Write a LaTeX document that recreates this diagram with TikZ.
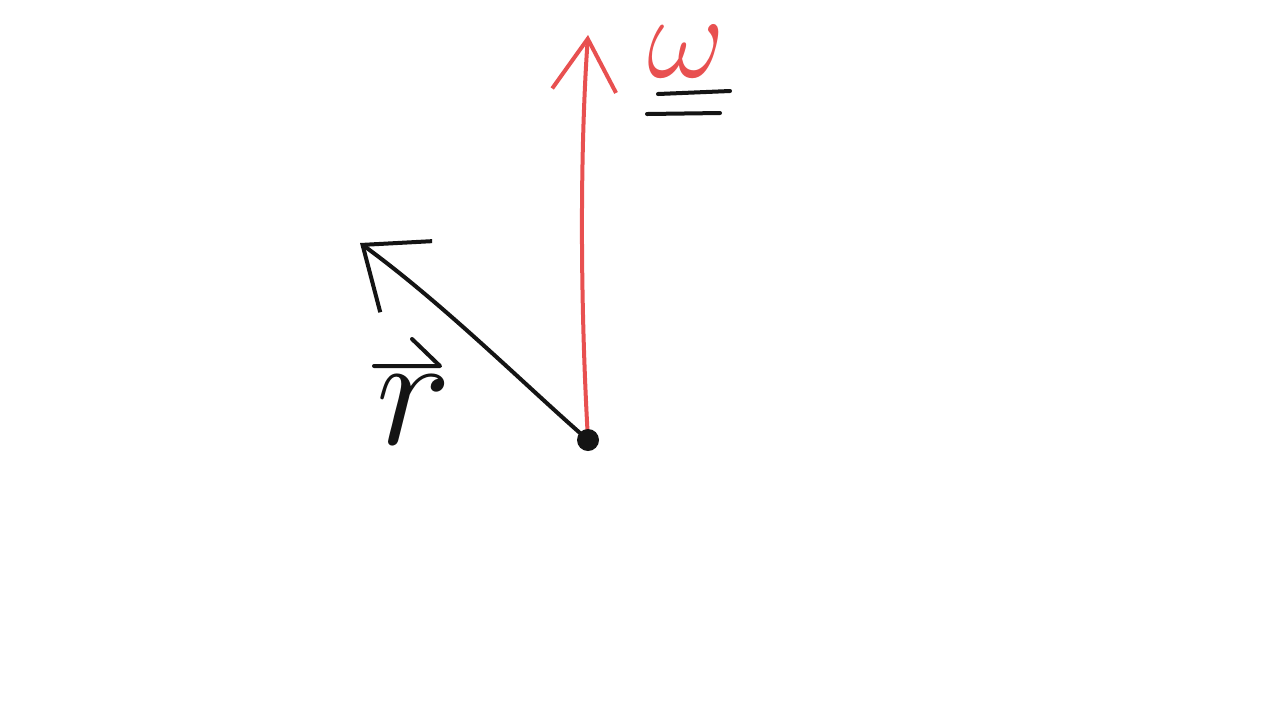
\RequirePackage{fix-cm}
\documentclass[tikz,border=0pt]{standalone}
\usetikzlibrary{arrows.meta}
\definecolor{penred}{RGB}{232,80,80}
\definecolor{penblack}{RGB}{20,20,20}
\tikzset{
  pen/.style={line width=2pt, line cap=round, line join=round},
  redpen/.style={pen, draw=penred},
  blackpen/.style={pen, draw=penblack},
}
\begin{document}
\begin{tikzpicture}[x=0.5pt,y=-0.5pt]
\useasboundingbox[fill=white] (0,0) rectangle (1280,720);
% points
\coordinate (P) at (588,440);
\coordinate (W) at (588,35);
\coordinate (R) at (360,243);
% omega vector
\draw[redpen, -{Straight Barb[length=26pt,width=32pt,line width=2pt]}] (P) .. controls (580,300) and (580,150) .. (W);
% r vector
\draw[blackpen, -{Straight Barb[length=27pt,width=44pt,line width=2pt]}] (P) .. controls (528,388) and (445,305) .. (R);
\fill[penblack] (P) circle (11);
% omega label with double underline
\node[text=penred, font=\fontsize{60}{60}\selectfont, inner sep=0] (om) at (686,52) {$\omega$};
\coordinate (u1a) at (658,94); \coordinate (u1b) at (730,91);
\coordinate (u2a) at (647,114); \coordinate (u2b) at (720,113);
\draw[blackpen] (u1a) -- (u1b);
\draw[blackpen] (u2a) -- (u2b);
% r label with harpoon
\node[text=penblack, font=\fontsize{80}{80}\selectfont, inner sep=0] (rl) at (414,410) {$r$};
\coordinate (ha) at (374,366); \coordinate (hb) at (440,366); \coordinate (hc) at (412,339);
\draw[blackpen] (ha) -- (hb) -- (hc);
\end{tikzpicture}
\end{document}
